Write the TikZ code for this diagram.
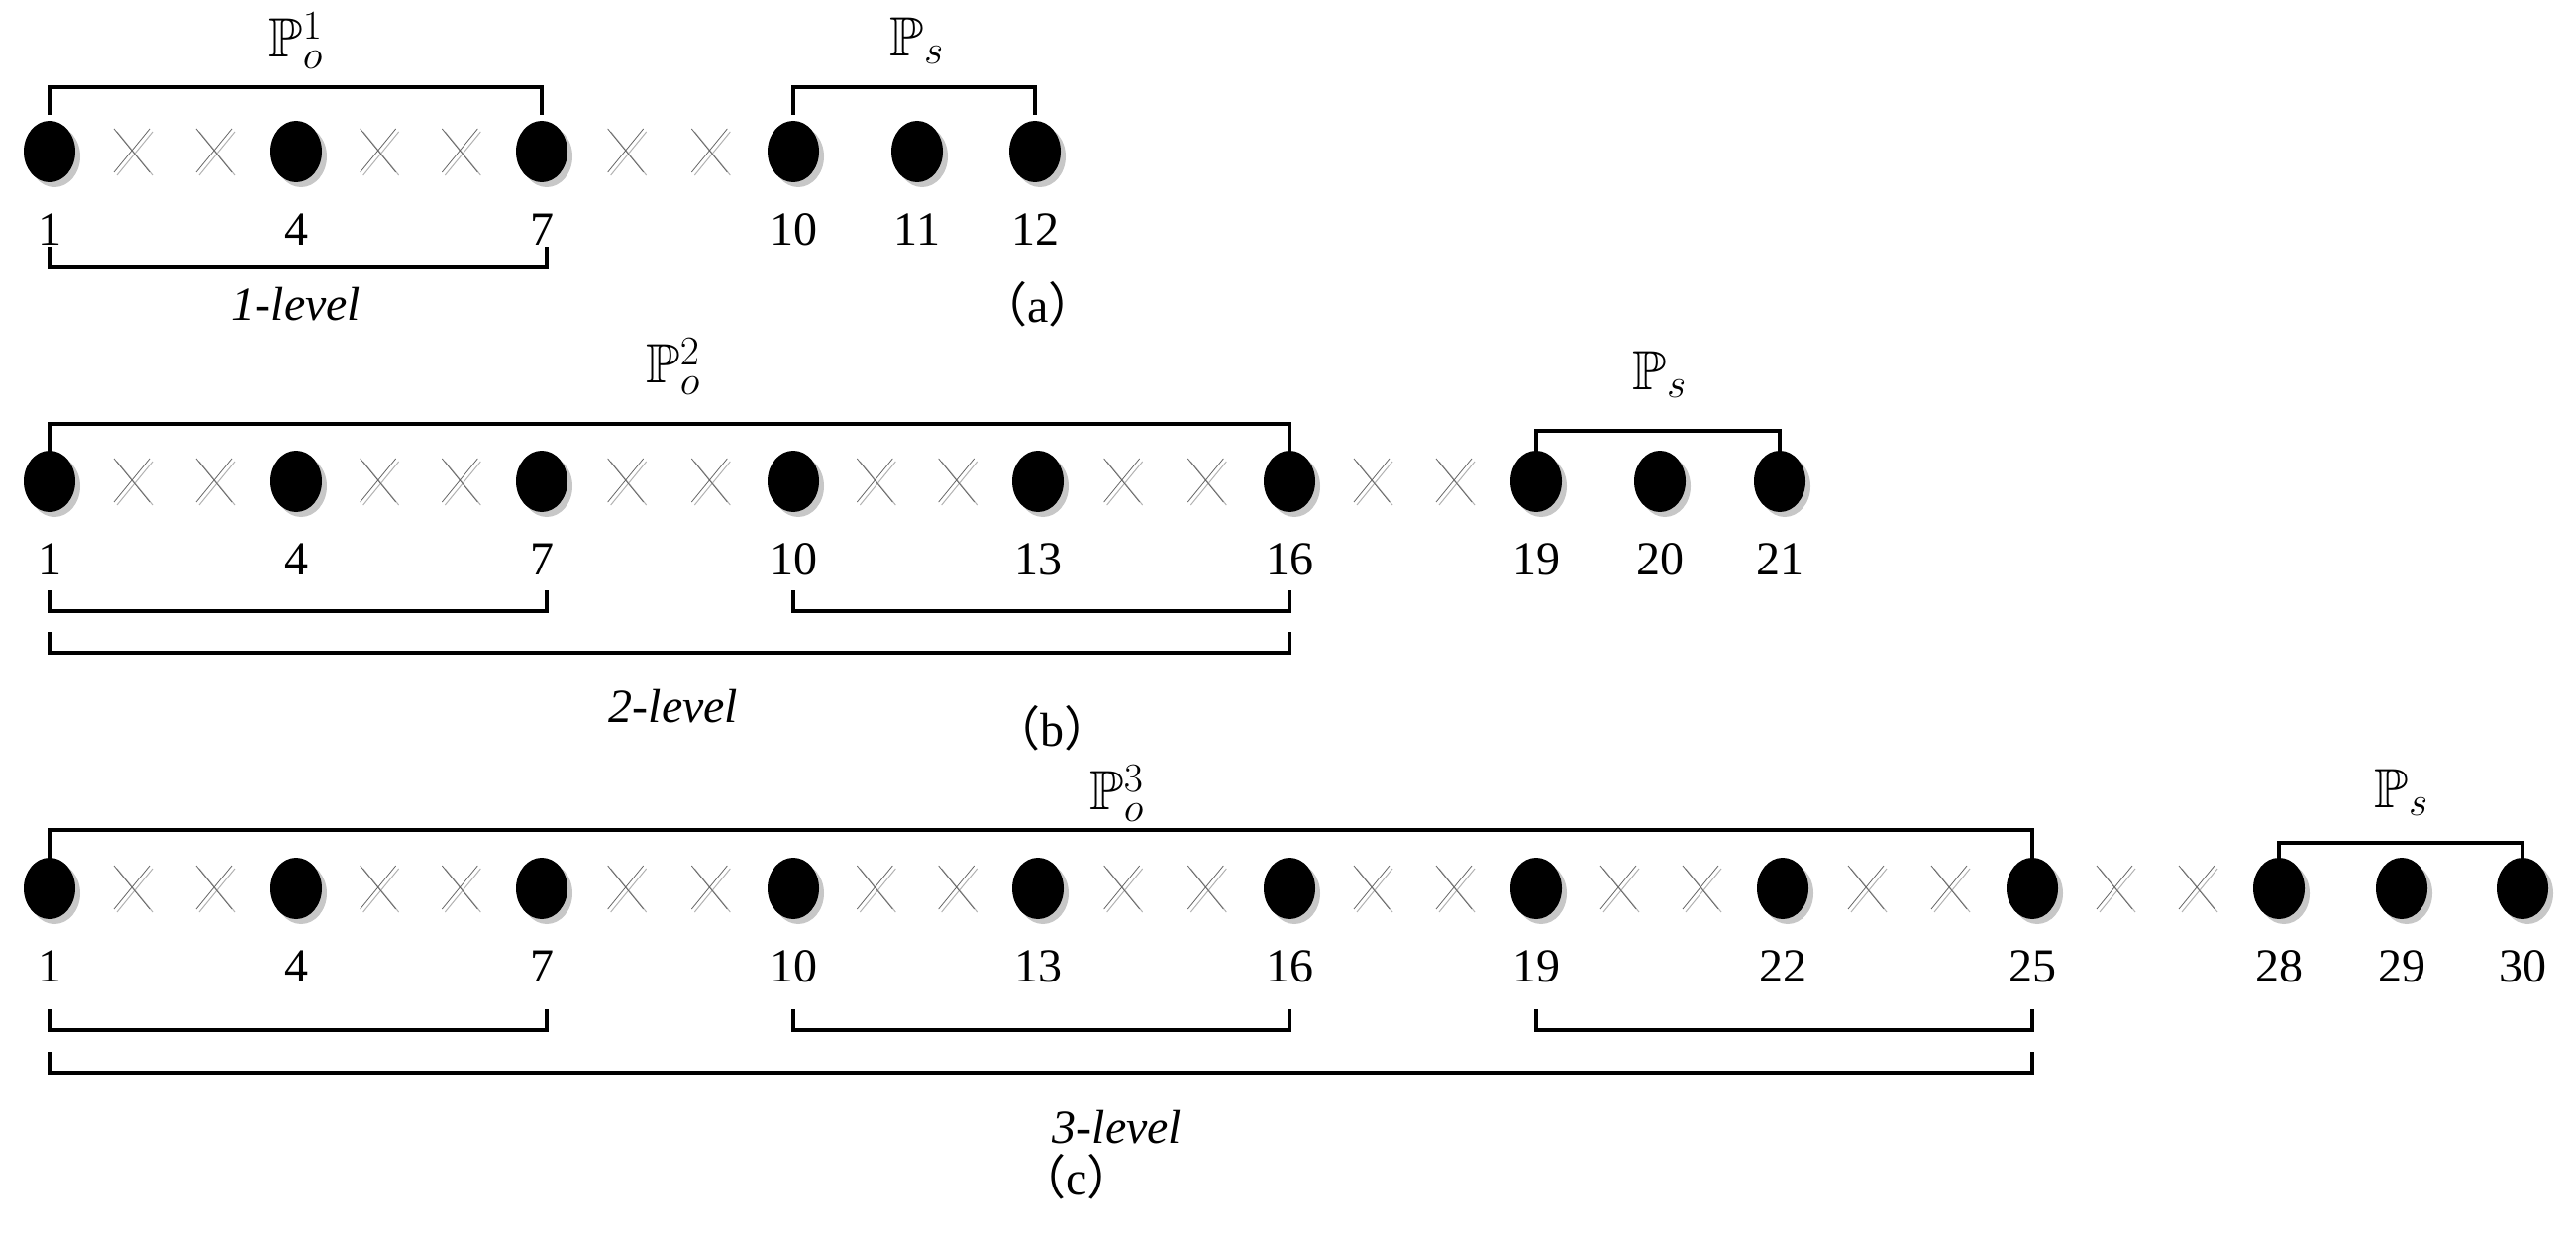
\documentclass[tikz,border=0pt]{standalone}
\usepackage{amssymb}
\usepackage{fontspec}
\usetikzlibrary{shapes.geometric}
\setmainfont{Liberation Serif}
\newfontfamily\cjk{Noto Sans CJK SC}
\tikzset{
 blk/.style={ellipse,fill=black,minimum width=26pt,minimum height=31pt,inner sep=0pt},
 shd/.style={ellipse,fill=black!22,minimum width=26pt,minimum height=31pt,inner sep=0pt},
 num/.style={font=\fontsize{24}{28}\selectfont,inner sep=0pt},
 brk/.style={line width=2.2pt},
 xs/.style={line width=0.5pt,black!30},
 xd/.style={line width=0.4pt,black!60},
 lab/.style={font=\fontsize{28}{32}\selectfont,inner sep=0pt},
}
\newcommand{\mydot}[4]{%
 \node[shd] at (#2+5,#3+5) {};
 \node[blk] (#1) at (#2,#3) {};
 \node[num] (#1l) at (#2,#3+79) {#4};}
\newcommand{\mycross}[2]{%
 \draw[xs] (#1-15,#2-20) -- (#1+21,#2+24) (#1+21,#2-20) -- (#1-15,#2+24);
 \draw[xd] (#1-18,#2-23) -- (#1+18,#2+21) (#1+18,#2-23) -- (#1-18,#2+21);}
\newcommand{\crosses}[3]{%
 \pgfmathsetmacro{\ca}{#1+(#2-#1)/3}\pgfmathsetmacro{\cb}{#1+2*(#2-#1)/3}%
 \mycross{\ca}{#3}\mycross{\cb}{#3}}
\begin{document}
\begin{tikzpicture}[x=0.5pt,y=-0.5pt]
\useasboundingbox (0,0) rectangle (2601,1251);
% ---------- row a
\foreach \a/\b in {50/299,299/547,547/801}{\crosses{\a}{\b}{153}}
\foreach \n/\x/\t in {a1/50/1,a4/299/4,a7/547/7,a10/801/10,a11/926/11,a12/1045/12}{\mydot{\n}{\x}{153}{\t}}
\draw[brk] (50,116) -- (50,88) -- (547,88) -- (547,116);
\node[lab] (pa) at (299,41) {$\mathbb{P}_o^1$};
\draw[brk] (801,116) -- (801,88) -- (1045,88) -- (1045,116);
\node[lab] (psa) at (926,41) {$\mathbb{P}_s$};
\draw[brk] (50,249) -- (50,270) -- (552,270) -- (552,249);
\node[num,font=\fontsize{24}{28}\selectfont\itshape] (la) at (299,307) {1-level};
\node[num] (ca) at (1048,307) {{\cjk （}a{\cjk ）}};
% ---------- row b
\foreach \a/\b in {50/299,299/547,547/801,801/1048,1048/1302,1302/1551}{\crosses{\a}{\b}{486}}
\foreach \n/\x/\t in {b1/50/1,b4/299/4,b7/547/7,b10/801/10,b13/1048/13,b16/1302/16,b19/1551/19,b20/1676/20,b21/1797/21}{\mydot{\n}{\x}{486}{\t}}
\draw[brk] (50,456) -- (50,428) -- (1302,428) -- (1302,456);
\node[lab] (pb) at (680,370) {$\mathbb{P}_o^2$};
\draw[brk] (1551,463) -- (1551,435) -- (1797,435) -- (1797,463);
\node[lab] (psb) at (1676,378) {$\mathbb{P}_s$};
\draw[brk] (50,596) -- (50,617) -- (552,617) -- (552,596);
\draw[brk] (801,596) -- (801,617) -- (1302,617) -- (1302,596);
\draw[brk] (50,638) -- (50,659) -- (1302,659) -- (1302,638);
\node[num,font=\fontsize{24}{28}\selectfont\itshape] (lb) at (680,713) {2-level};
\node[num] (cb) at (1062,735) {{\cjk （}b{\cjk ）}};
% ---------- row c
\foreach \a/\b in {50/299,299/547,547/801,801/1048,1048/1302,1302/1551,1551/1800,1800/2052,2052/2301}{\crosses{\a}{\b}{897}}
\foreach \n/\x/\t in {c1/50/1,c4/299/4,c7/547/7,c10/801/10,c13/1048/13,c16/1302/16,c19/1551/19,c22/1800/22,c25/2052/25,c28/2301/28,c29/2425/29,c30/2547/30}{\mydot{\n}{\x}{897}{\t}}
\draw[brk] (50,866) -- (50,838) -- (2052,838) -- (2052,866);
\node[lab] (pc) at (1128,801) {$\mathbb{P}_o^3$};
\draw[brk] (2301,879) -- (2301,851) -- (2547,851) -- (2547,879);
\node[lab] (psc) at (2425,800) {$\mathbb{P}_s$};
\draw[brk] (50,1019) -- (50,1040) -- (552,1040) -- (552,1019);
\draw[brk] (801,1019) -- (801,1040) -- (1302,1040) -- (1302,1019);
\draw[brk] (1551,1019) -- (1551,1040) -- (2052,1040) -- (2052,1019);
\draw[brk] (50,1062) -- (50,1083) -- (2052,1083) -- (2052,1062);
\node[num,font=\fontsize{24}{28}\selectfont\itshape] (lc) at (1128,1138) {3-level};
\node[num] (cc) at (1087,1188) {{\cjk （}c{\cjk ）}};
\end{tikzpicture}
\end{document}
